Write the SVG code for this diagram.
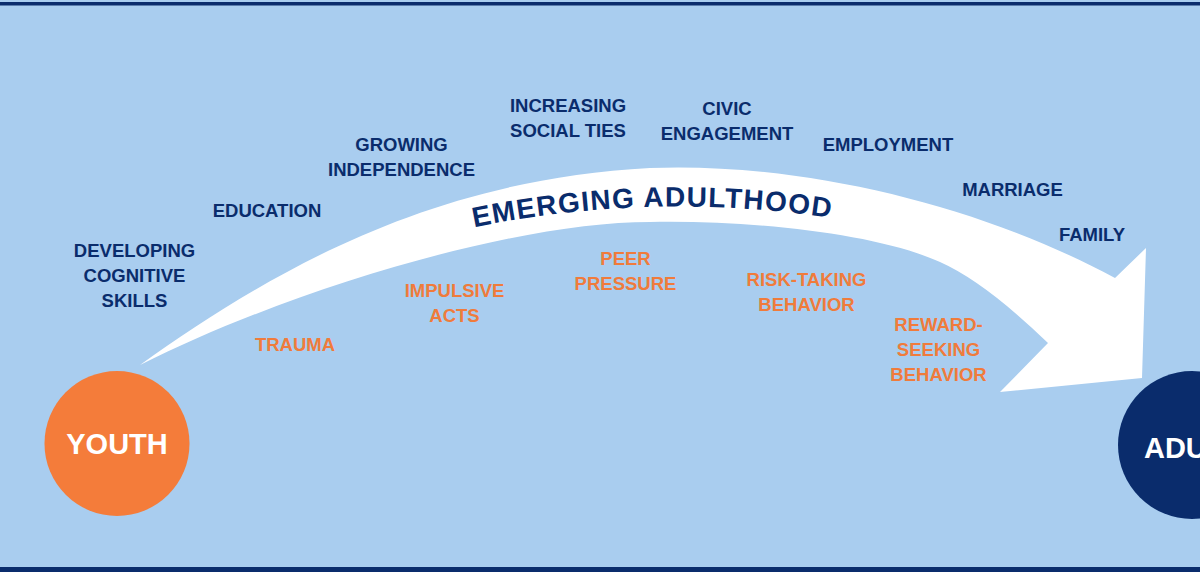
<svg xmlns="http://www.w3.org/2000/svg" width="1200" height="572" viewBox="0 0 1200 572">
  <defs>
    <style>
      .lbl { font-family: "Liberation Sans", Arial, sans-serif; font-weight: bold; font-size: 18.5px; text-anchor: middle; }
      .navy { fill: #0a2c6c; }
      .orange { fill: #f07b3b; }
      .big { font-family: "Liberation Sans", Arial, sans-serif; font-weight: bold; font-size: 29px; fill: #ffffff; text-anchor: middle; }
      .title { font-family: "Liberation Sans", Arial, sans-serif; font-weight: bold; font-size: 28px; fill: #0a2c6c; letter-spacing: 1.3px; }
    </style>
    <path id="arcText" d="M470,228 Q660,189 850,221"/>
  </defs>

  <rect x="0" y="0" width="1200" height="572" fill="#a9cdef"/>
  <rect x="0" y="2" width="1200" height="3.5" fill="#0a2c6c"/>
  <rect x="0" y="567" width="1200" height="5" fill="#0a2c6c"/>

  <g id="connectors">
    <path id="arrow" fill="#ffffff" d="M140,365 C260,280 420,180 650,168 C800,162 980,205 1115,278 L1146,248 L1142,378 L1000,392 L1048,343 Q985,282 940,262 C880,235 760,220 650,222 C520,222 300,285 140,365 Z"/>
    <text class="title"><textPath href="#arcText" startOffset="4">EMERGING ADULTHOOD</textPath></text>
  </g>

  <g id="youth">
    <circle cx="117" cy="443.5" r="72.5" fill="#f47c3a"/>
    <text class="big" x="117" y="454">YOUTH</text>
  </g>

  <g id="adult">
    <circle cx="1192" cy="445" r="74" fill="#0a2c6c"/>
    <text class="big" x="1192" y="457.5">ADULT</text>
  </g>

  <g id="developing-cognitive-skills" class="lbl navy">
    <text x="134.5" y="256.5">DEVELOPING</text>
    <text x="134.5" y="281.5">COGNITIVE</text>
    <text x="134.5" y="306.5">SKILLS</text>
  </g>
  <g id="education" class="lbl navy">
    <text x="267" y="216.5">EDUCATION</text>
  </g>
  <g id="growing-independence" class="lbl navy">
    <text x="401.5" y="150.5">GROWING</text>
    <text x="401.5" y="175.5">INDEPENDENCE</text>
  </g>
  <g id="increasing-social-ties" class="lbl navy">
    <text x="568" y="112">INCREASING</text>
    <text x="568" y="137">SOCIAL TIES</text>
  </g>
  <g id="civic-engagement" class="lbl navy">
    <text x="727" y="115">CIVIC</text>
    <text x="727" y="140">ENGAGEMENT</text>
  </g>
  <g id="employment" class="lbl navy">
    <text x="888" y="150.5">EMPLOYMENT</text>
  </g>
  <g id="marriage" class="lbl navy">
    <text x="1012.5" y="196">MARRIAGE</text>
  </g>
  <g id="family" class="lbl navy">
    <text x="1092" y="240.5">FAMILY</text>
  </g>

  <g id="trauma" class="lbl orange">
    <text x="295" y="350.5">TRAUMA</text>
  </g>
  <g id="impulsive-acts" class="lbl orange">
    <text x="454.5" y="297">IMPULSIVE</text>
    <text x="454.5" y="322">ACTS</text>
  </g>
  <g id="peer-pressure" class="lbl orange">
    <text x="625.5" y="264.5">PEER</text>
    <text x="625.5" y="289.5">PRESSURE</text>
  </g>
  <g id="risk-taking-behavior" class="lbl orange">
    <text x="806.5" y="285.5">RISK-TAKING</text>
    <text x="806.5" y="310.5">BEHAVIOR</text>
  </g>
  <g id="reward-seeking-behavior" class="lbl orange">
    <text x="938.5" y="330.5">REWARD-</text>
    <text x="938.5" y="355.5">SEEKING</text>
    <text x="938.5" y="380.5">BEHAVIOR</text>
  </g>
</svg>
